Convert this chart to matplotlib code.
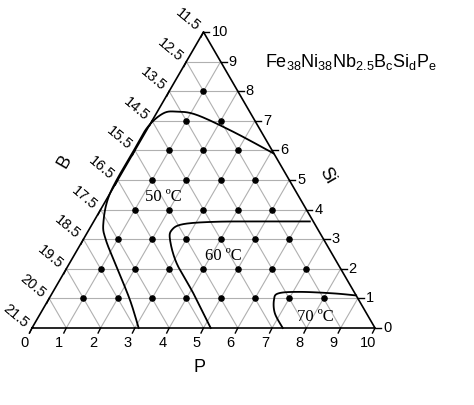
import numpy as np
import matplotlib.pyplot as plt

plt.rcParams['font.family'] = ['Liberation Sans', 'DejaVu Sans']
plt.rcParams['mathtext.fontset'] = 'custom'
plt.rcParams['mathtext.rm'] = 'Liberation Sans'
plt.rcParams['mathtext.it'] = 'Liberation Sans'

# Triangle in pixel space
X0, Y0 = 32.0, 328.0      # P=0, Si=0 corner
L, H = 343.0, 296.0       # side length, height

# Data: P and Si in at.%, B = 21.5 - P - Si
p_ticks = list(range(0, 11))
si_ticks = list(range(0, 11))
b_labels = ['21.5', '20.5', '19.5', '18.5', '17.5', '16.5', '15.5', '14.5', '13.5', '12.5', '11.5']

# measured compositions (P, Si)
dots_p = []
dots_si = []
for s in range(1, 9):
    for p in range(1, 10 - s):
        dots_p.append(p)
        dots_si.append(s)

c50_p = [3.11, 2.38, 1.43, 0.67, 0.31, 0.0, -0.03, -0.02, 0.2, 0.56, 1.2, 2.55, 4.09]
c50_si = [0.0, 0.95, 2.07, 2.97, 3.54, 4.55, 6.01, 6.8, 7.25, 7.31, 7.2, 6.63, 5.9]
c60_p = [5.21, 4.12, 3.13, 2.54, 2.42, 2.66, 3.59, 5.04, 6.3]
c60_si = [0.0, 1.17, 2.18, 2.97, 3.31, 3.51, 3.59, 3.6, 3.6]
c70_p = [7.31, 6.83, 6.58, 6.6, 7.2, 8.2, 8.9]
c70_si = [0.0, 0.5, 0.95, 1.17, 1.22, 1.17, 1.1]


def xy(p, s):
    p = np.asarray(p, float)
    s = np.asarray(s, float)
    return X0 + (p + s / 2) * L / 10, Y0 - s * H / 10


def smooth(p, s):
    # Catmull-Rom through the read points
    xs, ys = [], []
    pp = np.r_[p[0], p, p[-1]]
    ss = np.r_[s[0], s, s[-1]]
    for i in range(1, len(pp) - 2):
        for u in np.linspace(0, 1, 20, endpoint=False):
            def cr(a):
                return 0.5 * ((2 * a[i]) + (-a[i-1] + a[i+1]) * u +
                              (2*a[i-1] - 5*a[i] + 4*a[i+1] - a[i+2]) * u**2 +
                              (-a[i-1] + 3*a[i] - 3*a[i+1] + a[i+2]) * u**3)
            xs.append(cr(pp))
            ys.append(cr(ss))
    xs.append(p[-1])
    ys.append(s[-1])
    return np.array(xs), np.array(ys)


fig = plt.figure(figsize=(4.74, 4.05), dpi=100)
ax = fig.add_axes([0, 0, 1, 1])
ax.set_xlim(0, 474)
ax.set_ylim(405, 0)
ax.axis('off')

grid = dict(color='#b0b0b0', lw=0.8, zorder=1)
for k in range(1, 10):
    ax.plot(*xy([0, 10 - k], [k, k]), **grid)   # constant Si
    ax.plot(*xy([k, k], [0, 10 - k]), **grid)   # constant P
    ax.plot(*xy([k, 0], [0, k]), **grid)        # constant B

# frame
ax.plot(*xy([0, 10, 0, 0], [0, 0, 10, 0]), color='black', lw=1.2, zorder=3)

# ticks and labels
for p in p_ticks:
    x, y = xy(p, 0)
    ax.plot([x, x - 2.5], [y, y + 5], color='black', lw=1)
    ax.text(x - 7, y + 15, str(p), ha='center', va='center', fontsize=10.5)
for s in si_ticks:
    x, y = xy(10 - s, s)
    ax.plot([x, x + 6], [y, y], color='black', lw=1)
    ax.text(x + 8, y, str(s), ha='left', va='center', fontsize=10.5)
for i, lab in enumerate(b_labels):
    x, y = xy(0, i)
    ax.plot([x, x - 2.5], [y, y + 5], color='black', lw=1)
    ax.text(x - 16, y - 12, lab, ha='center', va='center', fontsize=10.5, rotation=-40)

ax.text(200, 367, 'P', ha='center', va='center', fontsize=13)
ax.text(327, 176, 'Si', ha='center', va='center', fontsize=13, rotation=-60)
ax.text(65, 162, 'B', ha='center', va='center', fontsize=13, rotation=60)
ax.text(351, 62, r'Fe$_{38}$Ni$_{38}$Nb$_{2.5}$B$_{\rm c}$Si$_{\rm d}$P$_{\rm e}$',
        ha='center', va='center', fontsize=13)

# samples
ax.scatter(*xy(dots_p, dots_si), s=14, color='black', zorder=4)

for cp, cs in [(c50_p, c50_si), (c60_p, c60_si), (c70_p, c70_si)]:
    sp, ss = smooth(np.array(cp), np.array(cs))
    ax.plot(*xy(sp, ss), color='black', lw=1.3, zorder=3)

serif = dict(family='Liberation Serif', fontsize=12, ha='center', va='center')
ax.text(163, 197, '50 ºC', **serif)
ax.text(223, 256, '60 ºC', **serif)
ax.text(315, 317, '70 ºC', **serif)

fig.savefig('out.png', dpi=100)
